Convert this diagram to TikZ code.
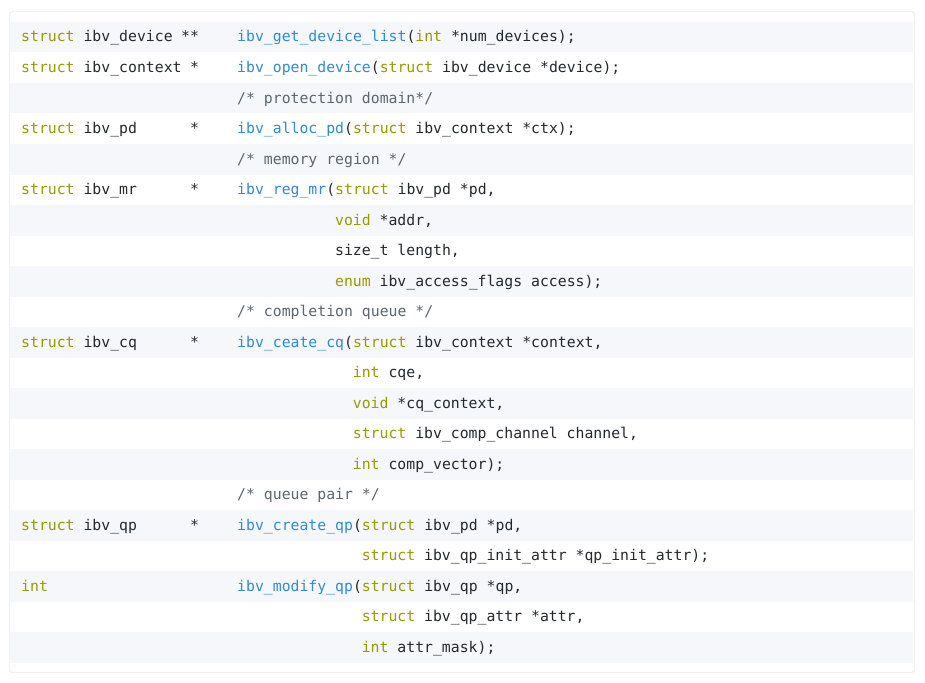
\documentclass[tikz,border=0pt]{standalone}
\usepackage{fontspec}
\setmonofont{DejaVu Sans Mono}
\definecolor{kw}{HTML}{999900}
\definecolor{fn}{HTML}{2F8BD6}
\definecolor{cm}{HTML}{5C6670}
\definecolor{tx}{HTML}{24292E}
\definecolor{band}{HTML}{F5F7FA}
\definecolor{frame}{HTML}{D3DAE3}
\newcommand{\kw}[1]{\textcolor{kw}{#1}}
\newcommand{\fn}[1]{\textcolor{fn}{#1}}
\newcommand{\cm}[1]{\textcolor{cm}{#1}}
\begin{document}
\begin{tikzpicture}[x=1pt,y=-1pt,
  code/.style={anchor=base west,inner sep=0pt,font=\fontsize{14.8}{16}\ttfamily,text=tx}]
\useasboundingbox (0,0) rectangle (925,682);
\fill[white] (0,0) rectangle (925,682);
\foreach \i in {0,2,...,20}{\fill[band] (10,22+30.5*\i) rectangle (913,52.5+30.5*\i);}
\draw[frame,rounded corners=3pt] (9.5,11.5) rectangle (914.5,672.5);
\def\cw{8.9}
\def\ra{21}\def\rb{237}
\newcommand{\row}[4]{\node[code] (#1) at (#2,#3*30.5+42) {#4};}
% column 1
\row{a0}{\ra}{0}{\kw{struct} ibv\_device}
\row{s0}{181}{0}{**}
\row{a1}{\ra}{1}{\kw{struct} ibv\_context}
\row{s1}{190}{1}{*}
\row{a3}{\ra}{3}{\kw{struct} ibv\_pd}
\row{s3}{190}{3}{*}
\row{a5}{\ra}{5}{\kw{struct} ibv\_mr}
\row{s5}{190}{5}{*}
\row{a10}{\ra}{10}{\kw{struct} ibv\_cq}
\row{s10}{190}{10}{*}
\row{a16}{\ra}{16}{\kw{struct} ibv\_qp}
\row{s16}{190}{16}{*}
\row{a18}{\ra}{18}{\kw{int}}
% column 2
\row{b0}{\rb}{0}{\fn{ibv\_get\_device\_list}(\kw{int} *num\_devices);}
\row{b1}{\rb}{1}{\fn{ibv\_open\_device}(\kw{struct} ibv\_device *device);}
\row{b2}{\rb}{2}{\cm{/* protection domain*/}}
\row{b3}{\rb}{3}{\fn{ibv\_alloc\_pd}(\kw{struct} ibv\_context *ctx);}
\row{b4}{\rb}{4}{\cm{/* memory region */}}
\row{b5}{\rb}{5}{\fn{ibv\_reg\_mr}(\kw{struct} ibv\_pd *pd,}
\row{b6}{\rb+11*\cw}{6}{\kw{void} *addr,}
\row{b7}{\rb+11*\cw}{7}{size\_t length,}
\row{b8}{\rb+11*\cw}{8}{\kw{enum} ibv\_access\_flags access);}
\row{b9}{\rb}{9}{\cm{/* completion queue */}}
\row{b10}{\rb}{10}{\fn{ibv\_ceate\_cq}(\kw{struct} ibv\_context *context,}
\row{b11}{\rb+13*\cw}{11}{\kw{int} cqe,}
\row{b12}{\rb+13*\cw}{12}{\kw{void} *cq\_context,}
\row{b13}{\rb+13*\cw}{13}{\kw{struct} ibv\_comp\_channel channel,}
\row{b14}{\rb+13*\cw}{14}{\kw{int} comp\_vector);}
\row{b15}{\rb}{15}{\cm{/* queue pair */}}
\row{b16}{\rb}{16}{\fn{ibv\_create\_qp}(\kw{struct} ibv\_pd *pd,}
\row{b17}{\rb+14*\cw}{17}{\kw{struct} ibv\_qp\_init\_attr *qp\_init\_attr);}
\row{b18}{\rb}{18}{\fn{ibv\_modify\_qp}(\kw{struct} ibv\_qp *qp,}
\row{b19}{\rb+14*\cw}{19}{\kw{struct} ibv\_qp\_attr *attr,}
\row{b20}{\rb+14*\cw}{20}{\kw{int} attr\_mask);}
\end{tikzpicture}
\end{document}
